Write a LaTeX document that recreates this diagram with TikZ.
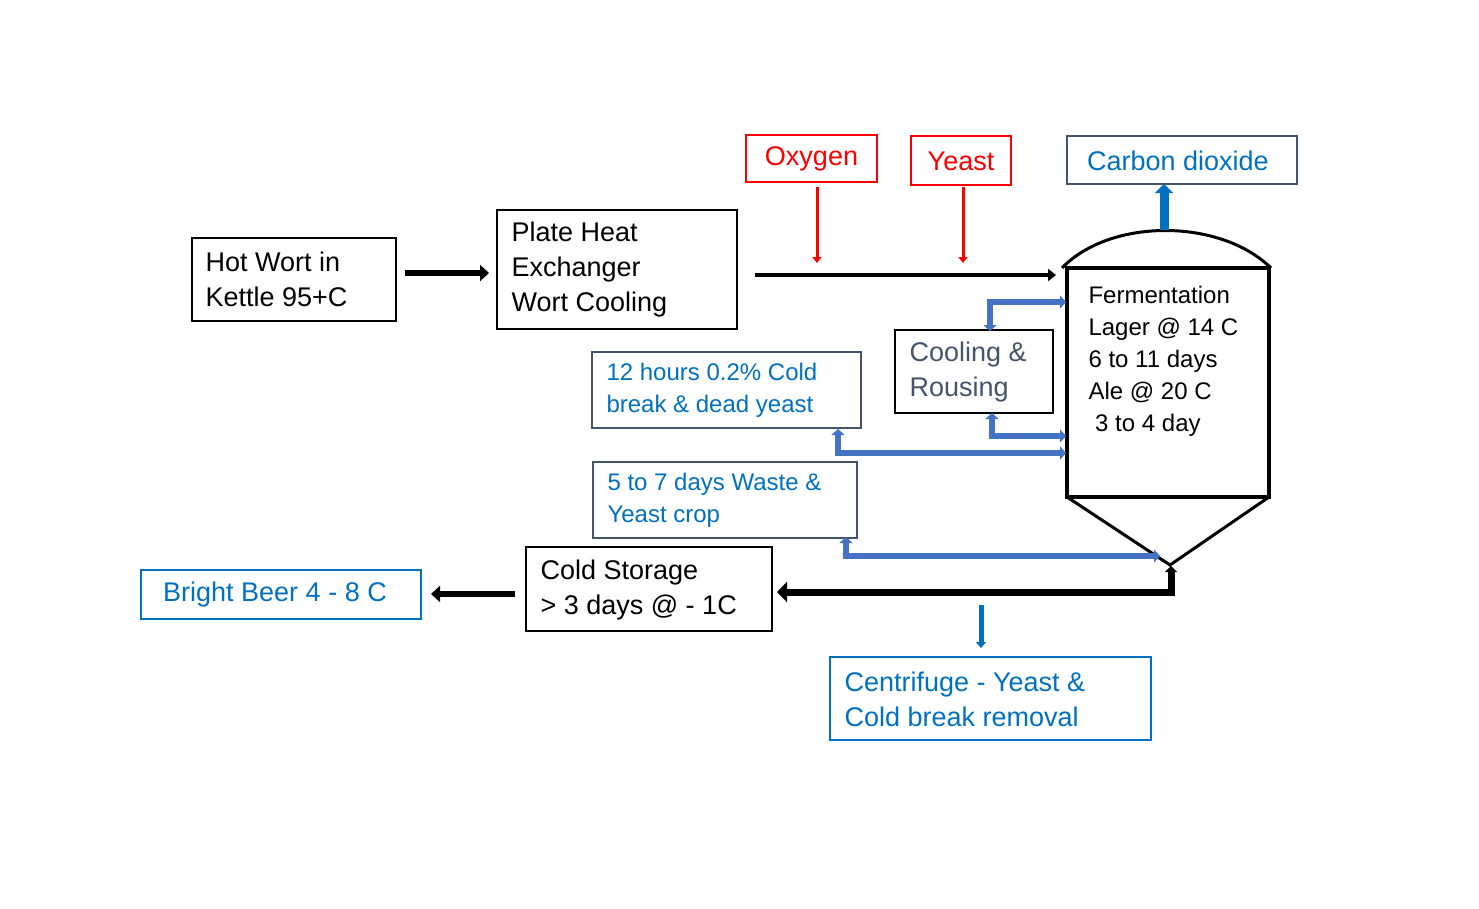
\documentclass[tikz,border=0pt]{standalone}
\usepackage{fontspec}
\setmainfont{Liberation Sans}
\usetikzlibrary{arrows.meta}
\definecolor{tblue}{HTML}{0070C0}
\definecolor{pblue}{HTML}{4472C4}
\definecolor{sgray}{HTML}{44546A}
\begin{document}
\begin{tikzpicture}[x=1pt,y=-1pt,
 box/.style={draw,line width=1.6pt,align=left,inner sep=0pt,anchor=north west},
 big/.style={font=\fontsize{27}{35}\selectfont},
 mid/.style={font=\fontsize{24}{32}\selectfont},
 blk/.style={line width=6pt,-{Triangle[length=9pt,width=16pt]}},
 bl/.style={draw=pblue,line width=6pt,{Triangle[length=6pt,width=13pt]}-{Triangle[length=6pt,width=13pt]}}]
\useasboundingbox (0,0) rectangle (1479,908);
% boxes
\draw[line width=1.6pt] (192,238) rectangle (396,321);
\node[big,align=left,anchor=west] (hot) at (202,279.5) {Hot Wort in\\Kettle 95+C};
\draw[line width=1.6pt] (497,210) rectangle (737,329);
\node[big,align=left,anchor=west] (phe) at (508,269.5) {Plate Heat\\Exchanger\\Wort Cooling};
\draw[red,line width=1.6pt] (746,135) rectangle (877,182);
\node[big,red] (oxy) at (811.5,159) {Oxygen};
\draw[red,line width=1.6pt] (911,136) rectangle (1011,185);
\node[big,red] (yst) at (961,161) {Yeast};
\draw[sgray,line width=1.6pt] (1067,136) rectangle (1297,184);
\node[big,tblue] (co2) at (1178,161) {Carbon dioxide};
\draw[sgray,line width=1.6pt] (592,352) rectangle (861,428);
\node[mid,tblue,align=left,anchor=west] (h12) at (603,390) {12 hours 0.2\% Cold\\break \& dead yeast};
\draw[line width=1.6pt] (895,330) rectangle (1053,413);
\node[big,sgray,align=left,anchor=west] (cr) at (906,372) {Cooling \&\\Rousing};
\draw[sgray,line width=1.6pt] (593,462) rectangle (857,538);
\node[mid,tblue,align=left,anchor=west] (d57) at (604,500) {5 to 7 days Waste \&\\Yeast crop};
\draw[line width=1.6pt] (526,547) rectangle (772,631);
\node[big,align=left,anchor=west] (cs) at (537,590) {Cold Storage\\> 3 days @ - 1C};
\draw[tblue,line width=1.6pt] (141,570) rectangle (421,619);
\node[big,tblue] (bb) at (275,595) {Bright Beer 4 - 8 C};
\draw[tblue,line width=1.6pt] (830,657) rectangle (1151,740);
\node[big,tblue,align=left,anchor=west] (cf) at (841,699) {Centrifuge - Yeast \&\\Cold break removal};
% tank
\draw[line width=4pt] (1067,268) rectangle (1269,497);
\draw[line width=3pt] (1062,268) .. controls (1110,218) and (1220,218) .. (1271,268);
\draw[line width=3pt] (1067,497) -- (1170,565) -- (1269,497);
\node[mid,align=left,anchor=north west] (ferm) at (1085,283) {Fermentation\\Lager @ 14 C\\6 to 11 days\\Ale @ 20 C\\\ 3 to 4 day};
% arrows
\coordinate (a1) at (405,273); \coordinate (a2) at (489,273);
\draw[blk] (a1) -- (a2);
\coordinate (l1) at (755,275); \coordinate (l2) at (1056,275);
\draw[line width=4pt,-{Triangle[length=8pt,width=12pt]}] (l1) -- (l2);
\draw[red,line width=3pt,-{Triangle[length=6pt,width=9pt]}] (817,187) -- (817,263);
\draw[red,line width=3pt,-{Triangle[length=6pt,width=9pt]}] (963,187) -- (963,263);
\draw[tblue,line width=9pt,-{Triangle[length=9pt,width=18pt]}] (1164,230) -- (1164,184);
\draw[line width=7pt,{Triangle[length=10pt,width=20pt]}-{Triangle[length=6pt,width=12pt]}] (777,592) -- (1171,592) -- (1171,566);
\draw[blk] (515,594) -- (431,594);
\draw[tblue,line width=5pt,-{Triangle[length=6pt,width=10pt]}] (981,605) -- (981,648);
\draw[bl] (990,331) -- (990,302) -- (1066,302);
\draw[bl] (992,413) -- (992,436) -- (1066,436);
\draw[bl] (838,429) -- (838,453) -- (1066,453);
\draw[bl] (846,537) -- (846,556) -- (1160,556);
\end{tikzpicture}
\end{document}
